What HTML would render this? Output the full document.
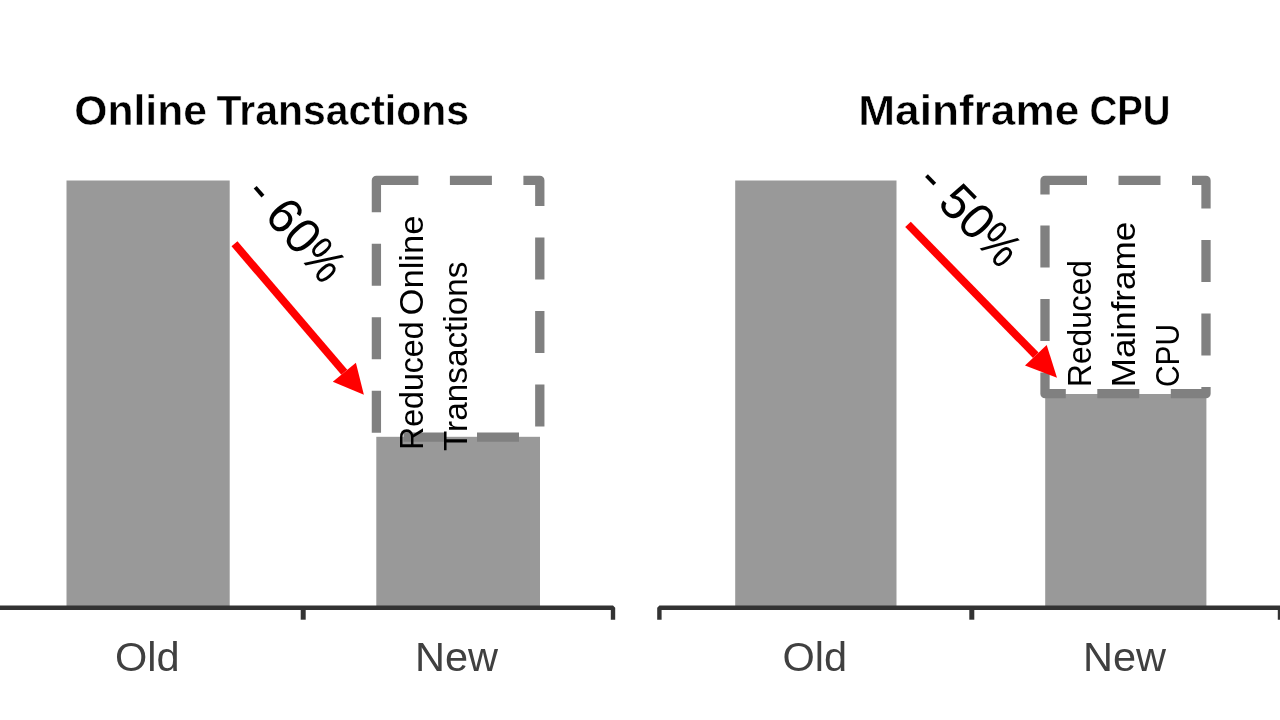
<!DOCTYPE html>
<html lang="en">
<head>
<meta charset="utf-8">
<title>Online Transactions and Mainframe CPU</title>
<style>
html,body{margin:0;padding:0;background:#fff;}
body{width:1280px;height:720px;overflow:hidden;}
svg{display:block;}
text{font-family:"Liberation Sans",sans-serif;}
.ttl{font-weight:bold;fill:#000;stroke:#fff;stroke-width:0.5px;}
.ax{fill:#404040;}
</style>
</head>
<body>
<svg width="1280" height="720" viewBox="0 0 1280 720">
<g>
<rect width="1280" height="720" fill="#fff"/>
<!-- bars -->
<g fill="#999">
<rect x="66.5" y="180.5" width="163.2" height="426"/>
<rect x="376.3" y="436.8" width="163.7" height="170"/>
<rect x="735.2" y="180.5" width="161.3" height="426"/>
<rect x="1045.2" y="394" width="161.2" height="212"/>
</g>
<!-- axes -->
<g fill="none" stroke="#333" stroke-width="4.4" stroke-linejoin="bevel">
<path d="M0 607.8H613V619.7"/>
<path d="M303.2 607.8V619.7" stroke-width="5"/>
<path d="M659.4 619.7V607.8H1280V619.7"/>
<path d="M971.8 607.8V619.7" stroke-width="5"/>
</g>
<!-- dashed boxes -->
<g fill="none" stroke="#808080" stroke-width="9.3" stroke-linejoin="round">
<path d="M376.4 212.2V180.3H539.8V437.1H376.4Z" stroke-dasharray="73.9 31.5 42 31.5 42 31.5 42 31.5 42 31.5 42 31.5 42 31.5 42 31.5 42 31.5 42 31.5 42 31.5"/>
<path d="M1045 194.4V180.4H1206V393.7H1045Z" stroke-dasharray="56 31.5 42 31.5 42 31.5 42 31.5 42 31.5 42 31.5 42 31.5 42 31.5 42 31.5 42 31.5"/>
</g>
<!-- arrows -->
<g fill="#f00" stroke="none">
<path d="M234.5 243.8L344.3 372.2" stroke="#f00" stroke-width="7.8" fill="none"/>
<path d="M363.9 394.8L332.8 381.7L355.9 362.8Z"/>
<path d="M908 224.4L1035.8 355.3" stroke="#f00" stroke-width="7.8" fill="none"/>
<path d="M1057 377.8L1025 365.6L1046.7 345Z"/>
</g>
<!-- titles -->
<g class="ttl" font-size="43.3">
<text x="74.2" y="124.9" textLength="132.8" lengthAdjust="spacingAndGlyphs">Online</text>
<text x="216.5" y="124.9" textLength="252.5" lengthAdjust="spacingAndGlyphs">Transactions</text>
<text x="858.3" y="124.9" textLength="221" lengthAdjust="spacingAndGlyphs">Mainframe</text>
<text x="1089.5" y="124.9" textLength="81" lengthAdjust="spacingAndGlyphs">CPU</text>
</g>
<!-- percent labels -->
<g font-size="50" fill="#000">
<g transform="translate(243.7 194.2) rotate(49)"><text textLength="83.7" lengthAdjust="spacingAndGlyphs">- 60</text><text x="83.7" textLength="37.6" lengthAdjust="spacingAndGlyphs">%</text></g>
<g transform="translate(915.5 183.4) rotate(45.5)"><text textLength="83.7" lengthAdjust="spacingAndGlyphs">- 50</text><text x="83.7" textLength="37.6" lengthAdjust="spacingAndGlyphs">%</text></g>
</g>
<!-- vertical labels -->
<g font-size="32.8" fill="#000">
<text transform="translate(422.7 450) rotate(-90)" textLength="128.5" lengthAdjust="spacingAndGlyphs">Reduced</text>
<text transform="translate(422.7 315.5) rotate(-90)" textLength="100" lengthAdjust="spacingAndGlyphs">Online</text>
<text transform="translate(467 451) rotate(-90)" textLength="189.5" lengthAdjust="spacingAndGlyphs">Transactions</text>
<text transform="translate(1090.9 387) rotate(-90)" textLength="127" lengthAdjust="spacingAndGlyphs">Reduced</text>
<text transform="translate(1135 387.3) rotate(-90)" textLength="165.5" lengthAdjust="spacingAndGlyphs">Mainframe</text>
<text transform="translate(1178.6 387) rotate(-90)" textLength="63" lengthAdjust="spacingAndGlyphs">CPU</text>
</g>
<!-- axis labels -->
<g class="ax" font-size="41.5">
<text x="115" y="671">Old</text>
<text x="415" y="671">New</text>
<text x="782.4" y="671">Old</text>
<text x="1083" y="671">New</text>
</g>
</g>
</svg>
</body>
</html>
